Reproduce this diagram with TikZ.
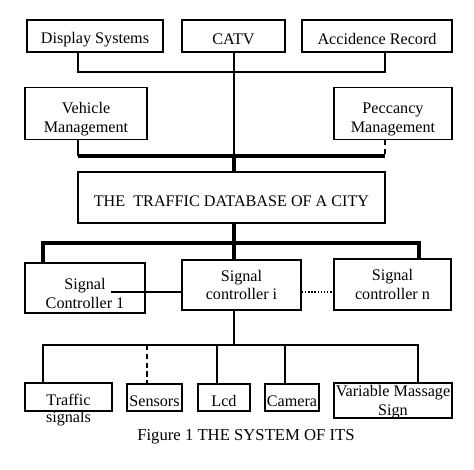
\documentclass[tikz,border=0pt]{standalone}
\usepackage{fontspec}
\setmainfont{Liberation Serif}
\newcommand{\hangtwo}[2]{\raisebox{0pt}[\height][0pt]{\begin{tabular}[t]{@{}c@{}}#1\\[-1pt]#2\end{tabular}}}
\begin{document}
\begin{tikzpicture}[x=0.02cm, y=-0.02cm, line width=0.8pt,
  every node/.style={font=\fontsize{9.2}{10.5}\selectfont},
  blk/.style={draw, line width=0.9pt, align=center, inner sep=2pt, execute at begin node={\rule{0pt}{10pt}}},
  bus/.style={line width=2pt}]
  \useasboundingbox (0,0) rectangle (474,470);
  % Top row
  \node[blk,minimum width=2.72cm,minimum height=0.64cm] (disp) at (95,36) {Display Systems};
  \node[blk,minimum width=2.06cm,minimum height=0.64cm] (catv) at (233.5,36) {CATV};
  \node[blk,minimum width=3.0cm,minimum height=0.64cm] (acc) at (377,36) {Accidence Record};
  % Management
  \node[blk,minimum width=2.44cm,minimum height=1.02cm] (veh) at (86,113.5) {\rule{0pt}{13pt}Vehicle\\Management};
  \node[blk,minimum width=2.36cm,minimum height=1.02cm] (pec) at (393,113.5) {\rule{0pt}{13pt}Peccancy\\Management};
  % Database
  \node[blk,minimum width=6.14cm,minimum height=1.02cm] (db) at (231.5,197.5) {THE\ \ TRAFFIC DATABASE OF A CITY};
  % Signal controllers
  \node[blk,minimum width=2.4cm,minimum height=1.0cm] (sc1) at (85,288) {\rule{0pt}{12.5pt}Signal\\Controller 1};
  \node[blk,minimum width=2.38cm,minimum height=1.0cm] (sci) at (241.5,285) {Signal\\controller i};
  \node[blk,minimum width=2.34cm,minimum height=1.02cm] (scn) at (392.5,284.5) {Signal\\controller n};
  % Devices
  \node[blk,minimum width=1.74cm,minimum height=0.56cm,execute at begin node={}] (trf) at (68.5,397) {\hangtwo{Traffic}{signals}};
  \node[blk,minimum width=1.1cm,minimum height=0.54cm,inner xsep=0pt] (sen) at (154.5,397.5) {Sensors};
  \node[blk,minimum width=1.04cm,minimum height=0.54cm] (lcd) at (224,397.5) {Lcd};
  \node[blk,minimum width=1.08cm,minimum height=0.54cm,inner xsep=0pt] (cam) at (292,397.5) {Camera};
  \node[blk,minimum width=2.36cm,minimum height=0.7cm,inner xsep=0pt,inner ysep=0pt] (vms) at (393,400.5) {Variable Massage\\\smash{Sign}};
  \node[font=\fontsize{9.5}{11}\selectfont] (cap) at (246,437) {Figure 1 THE SYSTEM OF ITS};
  % Junctions
  \coordinate (a1) at (78,72); \coordinate (a2) at (385,72);
  \coordinate (b1) at (78,156); \coordinate (b2) at (385,156); \coordinate (b0) at (234,156);
  \coordinate (c1) at (43,243); \coordinate (c2) at (419,243); \coordinate (c0) at (234,243);
  \coordinate (l1) at (111,292);
  \coordinate (d1) at (43,345); \coordinate (d2) at (418,345); \coordinate (d0) at (234,345);
  \coordinate (dsen) at (147,345); \coordinate (dlcd) at (217,345); \coordinate (dcam) at (285,345);
  % Links
  \draw (disp.south -| a1) -- (a1) -- (a2) -- (acc.south -| a2);
  \draw (catv.south -| b0) -- (b0);
  \draw (veh.south -| b1) -- (b1);
  \draw[densely dashed] (pec.south -| b2) -- (b2);
  \draw[bus] (b1) -- (b2);
  \draw[bus] (b0) -- (db.north -| b0);
  \draw[bus] (db.south -| c0) -- (c0);
  \draw[bus] (sc1.north -| c1) -- (c1) -- (c2) -- (scn.north -| c2);
  \draw[bus] (c0) -- (sci.north -| c0);
  \draw (l1) -- (l1 -| sci.west);
  \draw[densely dotted] (l1 -| sci.east) -- (l1 -| scn.west);
  \draw (sci.south -| d0) -- (d0);
  \draw (trf.north -| d1) -- (d1) -- (d2) -- (vms.north -| d2);
  \draw[densely dashed] (dsen) -- (sen.north -| dsen);
  \draw (dlcd) -- (lcd.north -| dlcd);
  \draw (dcam) -- (cam.north -| dcam);
\end{tikzpicture}
\end{document}
